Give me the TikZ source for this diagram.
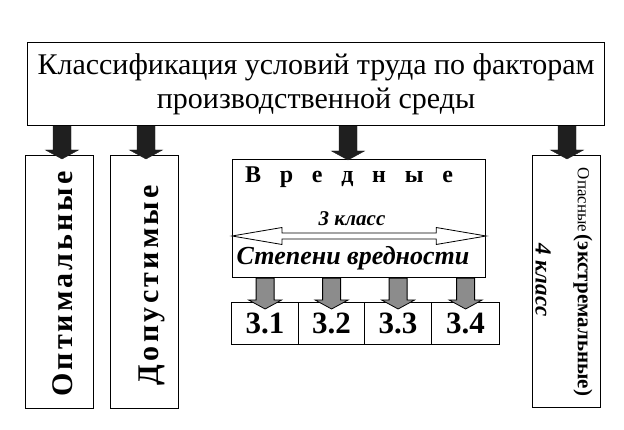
\documentclass[tikz,border=0pt]{standalone}
\usepackage{fontspec}
\setmainfont{Liberation Serif}
\usetikzlibrary{calc}
\newcommand\fatarrow[3]{%
  \filldraw[#1] ($(#2)+(-9,0)$) -- ($(#3)+(-9,-9)$) -- ($(#3)+(-16.5,-9)$) -- (#3)
    -- ($(#3)+(16.5,-9)$) -- ($(#3)+(9,-9)$) -- ($(#2)+(9,0)$) -- cycle;}
\begin{document}
\begin{tikzpicture}[x=1pt,y=-1pt,
  box/.style={draw,line width=1.2pt,inner sep=0pt,anchor=north west},
  darkarrow/.style={fill=black!88,draw=black!88,line width=0.4pt},
  grayarrow/.style={fill=black!45,draw=black,line width=0.8pt},
  txt/.style={inner sep=0pt}]
\useasboundingbox (0,0) rectangle (624,430);
\fill[white] (0,0) rectangle (624,430);
% boxes
\node[box,minimum width=577pt,minimum height=83pt] (top) at (27,42) {};
\node[box,minimum width=68pt,minimum height=253pt] (opt) at (25,155) {};
\node[box,minimum width=68pt,minimum height=253pt] (dop) at (110,155) {};
\node[box,minimum width=253pt,minimum height=118pt] (vred) at (232,159) {};
\node[box,minimum width=68pt,minimum height=252pt] (dang) at (532,155) {};
\node[box,minimum width=67pt,minimum height=42pt] (s1) at (231,302) {};
\node[box,minimum width=66pt,minimum height=42pt] (s2) at (298,302) {};
\node[box,minimum width=67pt,minimum height=42pt] (s3) at (364,302) {};
\node[box,minimum width=68pt,minimum height=42pt] (s4) at (431,302) {};
% texts
\node[txt,align=center,font=\fontsize{30}{34}\selectfont] (title) at (top.center) {Классификация условий труда по факторам\\производственной среды};
\node[txt,rotate=90,font=\fontsize{30}{32}\selectfont\bfseries] (topt) at (63,284) {\makebox[225pt][s]{О\hfill п\hfill т\hfill и\hfill м\hfill а\hfill л\hfill ь\hfill н\hfill ы\hfill е}};
\node[txt,rotate=90,font=\fontsize{30}{32}\selectfont\bfseries] (tdop) at (152,285) {\makebox[200pt][s]{Д\hfill о\hfill п\hfill у\hfill с\hfill т\hfill и\hfill м\hfill ы\hfill е}};
\node[txt,font=\fontsize{24}{26}\selectfont\bfseries] (tvred) at (349,177) {\makebox[208pt][s]{В\hfill р\hfill е\hfill д\hfill н\hfill ы\hfill е}};
\node[txt,font=\fontsize{21}{24}\selectfont\bfseries\itshape] (t3) at (352,219) {3 класс};
\node[txt,font=\fontsize{26}{28}\selectfont\bfseries\itshape] (tstep) at (353,258) {Степени вредности};
\foreach \n/\t in {s1/3.1,s2/3.2,s3/3.3,s4/3.4}
  \node[txt,font=\fontsize{31}{32}\selectfont\bfseries] at (\n.center) {\t};
\node[txt,rotate=-90] (tdang) at (583,282) {{\fontsize{17}{20}\selectfont Опасные} {\fontsize{21}{24}\selectfont\bfseries(экстремальные)}};
\node[txt,rotate=-90,font=\fontsize{23}{26}\selectfont\bfseries\itshape] (t4) at (543,280) {4 класс};
% dark arrows
\coordinate (x1) at (62,0);
\coordinate (x2) at (146,0);
\coordinate (x3) at (348,0);
\coordinate (x4) at (567,0);
\coordinate (a1s) at (top.south -| x1);
\coordinate (a2s) at (top.south -| x2);
\coordinate (a3s) at (top.south -| x3);
\coordinate (a4s) at (top.south -| x4);
\coordinate (a1e) at ($(opt.north -| x1)+(0,4)$);
\coordinate (a2e) at ($(dop.north -| x2)+(0,4)$);
\coordinate (a3e) at ($(vred.north -| x3)+(0,1)$);
\coordinate (a4e) at ($(dang.north -| x4)+(0,4)$);
\fatarrow{darkarrow}{a1s}{a1e}
\fatarrow{darkarrow}{a2s}{a2e}
\fatarrow{darkarrow}{a3s}{a3e}
\fatarrow{darkarrow}{a4s}{a4e}
% gray arrows
\foreach \n in {s1,s2,s3,s4}{
  \coordinate (g\n s) at (vred.south -| \n);
  \coordinate (g\n e) at ($(\n.north)+(0,7)$);
  \fatarrow{grayarrow}{g\n s}{g\n e}
}
% double arrow
\coordinate (dy) at (0,236);
\coordinate (dl) at (vred.west |- dy);
\coordinate (dr) at (vred.east |- dy);
\filldraw[fill=white,line width=0.8pt] (dl) -- ($(dl)+(50,-8.5)$) -- ($(dl)+(50,-3)$) -- ($(dr)+(-50,-3)$)
  -- ($(dr)+(-50,-8.5)$) -- (dr) -- ($(dr)+(-50,8.5)$) -- ($(dr)+(-50,3)$) -- ($(dl)+(50,3)$)
  -- ($(dl)+(50,8.5)$) -- cycle;
\end{tikzpicture}
\end{document}
